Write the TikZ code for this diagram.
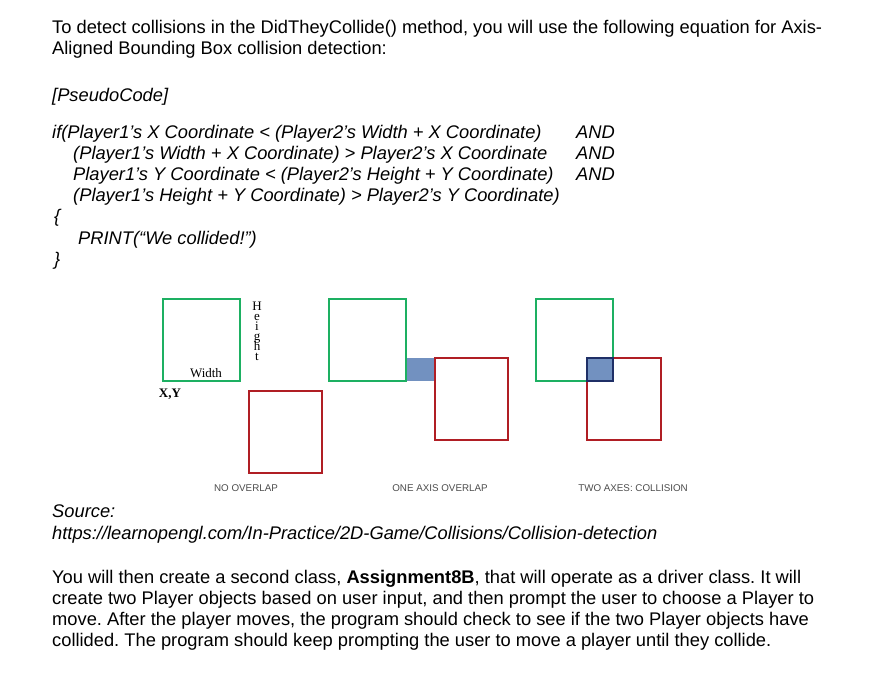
\documentclass[tikz,border=0pt]{standalone}
\usepackage{fontspec}
\setmainfont{Liberation Sans}
\newfontfamily\serifx{Liberation Serif}
\definecolor{gbox}{HTML}{1DB062}
\definecolor{rbox}{HTML}{B01E24}
\definecolor{ovl}{HTML}{7291C0}
\definecolor{ovd}{HTML}{1F2F66}
\begin{document}
\frenchspacing
\begin{tikzpicture}[x=1pt,y=-1pt,
  txt/.style={anchor=base west,inner sep=0,font=\fontsize{18.3}{21}\selectfont},
  itx/.style={txt,font=\fontsize{18.3}{21}\selectfont\itshape},
  gsq/.style={draw=gbox,line width=1.4pt},
  rsq/.style={draw=rbox,line width=1.4pt},
  hl/.style={inner sep=0,anchor=base,font=\serifx\fontsize{13}{14}\selectfont},
  captxt/.style={inner sep=0,text=black!70,font=\fontsize{9.8}{10}\selectfont}]
\useasboundingbox (0,0) rectangle (882,681);
\node[txt] (l1) at (52,33) {To detect collisions in the DidTheyCollide() method, you will use the following equation for Axis-};
\node[txt] (l2) at (52,54) {Aligned Bounding Box collision detection:};
\node[itx] (pc) at (52,101) {[PseudoCode]};
\node[itx] (c1) at (52,138) {if(Player1’s X Coordinate < (Player2’s Width + X Coordinate)};
\node[itx] (c2) at (73,159) {(Player1’s Width + X Coordinate) > Player2’s X Coordinate};
\node[itx] (c3) at (73,180) {Player1’s Y Coordinate < (Player2’s Height + Y Coordinate)};
\node[itx] (c4) at (73,201) {(Player1’s Height + Y Coordinate) > Player2’s Y Coordinate)};
\node[itx] (a1) at (576,138) {AND};
\node[itx] (a2) at (576,159) {AND};
\node[itx] (a3) at (576,180) {AND};
\node[itx] (ob) at (54,222) {\{};
\node[itx] (pr) at (78,244) {PRINT(“We collided!”)};
\node[itx] (cb) at (54,265) {\}};
% panel 1
\draw[gsq] (163,299) rectangle (240,381);
\draw[rsq] (249,391) rectangle (322,473);
\node[hl] (h1) at (257,310) {H};
\node[hl] (h2) at (257,320) {e};
\node[hl] (h3) at (257,330) {i};
\node[hl] (h4) at (257,340) {g};
\node[hl] (h5) at (257,350) {h};
\node[hl] (h6) at (257,360) {t};
\node[hl] (wd) at (206,377) {Width};
\node[hl,font=\serifx\bfseries\fontsize{13}{14}\selectfont] (xy) at (170,397) {X,Y};
% panel 2
\fill[ovl] (406,358) rectangle (435,381);
\draw[ovd,line width=1.4pt] (406,358) -- (406,381);
\draw[gsq] (329,299) rectangle (406,381);
\draw[rsq] (435,358) rectangle (508,440);
% panel 3
\draw[gsq] (536,299) rectangle (613,381);
\draw[rsq] (587,358) rectangle (661,440);
\fill[ovl] (587,358) rectangle (613,381);
\draw[ovd,line width=1.4pt] (587,358) rectangle (613,381);
\node[captxt] (t1) at (246,488) {NO OVERLAP};
\node[captxt] (t2) at (440,488) {ONE AXIS OVERLAP};
\node[captxt] (t3) at (633,488) {TWO AXES: COLLISION};
\node[itx] (s1) at (52,517) {Source:};
\node[itx] (s2) at (52,539) {https://learnopengl.com/In-Practice/2D-Game/Collisions/Collision-detection};
\node[txt] (p1) at (52,583) {You will then create a second class, \textbf{Assignment8B}, that will operate as a driver class. It will};
\node[txt] (p2) at (52,604) {create two Player objects based on user input, and then prompt the user to choose a Player to};
\node[txt] (p3) at (52,625) {move. After the player moves, the program should check to see if the two Player objects have};
\node[txt] (p4) at (52,646) {collided. The program should keep prompting the user to move a player until they collide.};
\end{tikzpicture}
\end{document}
